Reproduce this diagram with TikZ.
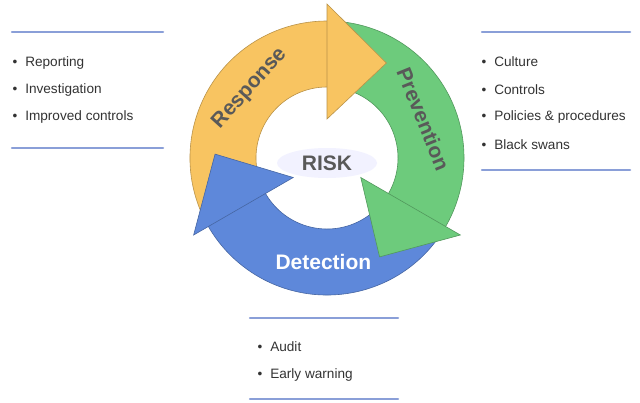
\documentclass[tikz,border=0pt]{standalone}
\usepackage{fontspec}
\usetikzlibrary{shapes.geometric}
\setmainfont{Liberation Sans}
\begin{document}
\begin{tikzpicture}[x=1pt,y=-1pt,
  item/.style={anchor=west,font=\fontsize{13.6}{15}\selectfont,text=black!80},
  lbl/.style={font=\bfseries\fontsize{21}{24}\selectfont},
  sep/.style={line width=2.5pt,draw=sepc,line cap=round}]
\definecolor{sepc}{HTML}{8A9FD8}
\newcommand{\bul}{\textbullet\hspace{8pt}}
\useasboundingbox (0,0) rectangle (640,402);
\fill[white] (0,0) rectangle (640,402);
% separator lines
\coordinate (l1a) at (12,32); \coordinate (l1b) at (163,32);
\coordinate (l2a) at (12,148); \coordinate (l2b) at (163,148);
\coordinate (r1a) at (482,32); \coordinate (r1b) at (630,32);
\coordinate (r2a) at (482,170); \coordinate (r2b) at (630,170);
\coordinate (b1a) at (250,318); \coordinate (b1b) at (398,318);
\coordinate (b2a) at (250,399); \coordinate (b2b) at (398,399);
\foreach \a/\b in {l1a/l1b,l2a/l2b,r1a/r1b,r2a/r2b,b1a/b1b,b2a/b2b}
  \draw[sep] (\a) -- (\b);
% lists
\node[item] (t1) at (9,63) {\bul Reporting};
\node[item] (t2) at (9,90) {\bul Investigation};
\node[item] (t3) at (9,117) {\bul Improved controls};
\node[item] (p1) at (478,62) {\bul Culture};
\node[item] (p2) at (478,90) {\bul Controls};
\node[item] (p3) at (478,117) {\bul Policies \& procedures};
\node[item] (p4) at (478,145) {\bul Black swans};
\node[item] (d1) at (254,347) {\bul Audit};
\node[item] (d2) at (254,375) {\bul Early warning};
% cycle
\begin{scope}[shift={(327,158)},y=1pt]
\def\R{137}\def\r{71}\def\M{104}
\definecolor{cO}{HTML}{F8C461}
\definecolor{cG}{HTML}{6DCB7C}
\definecolor{cB}{HTML}{5E88DA}
\foreach \c/\aa/\ab in {cO/205/88,cG/85/-32,cB/-35/-152}
  \filldraw[fill=\c,draw=\c!75!black,line width=0.6pt]
    (\aa:\R) arc[start angle=\aa,end angle=\ab,radius=\R]
    -- (\ab:\r) arc[start angle=\ab,end angle=\aa,radius=\r] -- cycle;
\foreach \c/\ab/\at in {cO/90/58,cG/-30/-62,cB/-150/-182}
  \filldraw[fill=\c,draw=\c!75!black,line width=0.6pt]
    (\ab:\R) -- (\ab:\R+17) -- (\at:\M+8) -- (\ab:\r-32) -- (\ab:\r) -- cycle;
\node[ellipse,fill=blue!5,minimum width=100pt,minimum height=30pt,inner sep=0pt] (glow) at (0,-5) {};
\node[lbl,text=black!65] (risk) at (0,-5) {RISK};
\node[lbl,text=black!65,rotate=48] (resp) at (138:\M) {Response};
\node[lbl,text=black!65,rotate=-68] (prev) at (22:\M) {Prevention};
\node[lbl,text=white] (det) at (-92:\M) {Detection};
\end{scope}
\end{tikzpicture}
\end{document}
